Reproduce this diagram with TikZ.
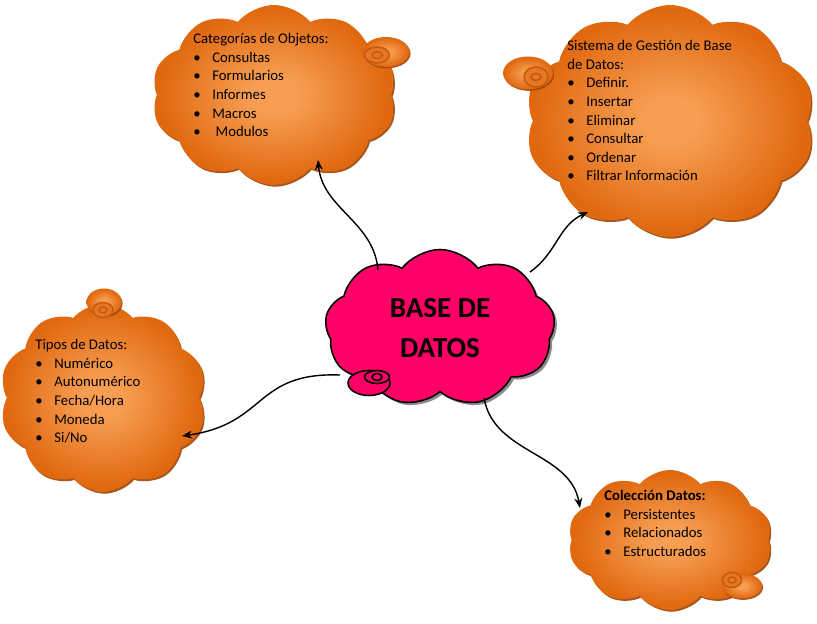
\documentclass[tikz,border=0pt]{standalone}
\usepackage{fontspec}
\setmainfont{Carlito}
\usetikzlibrary{arrows.meta,shapes.symbols,shapes.geometric,shadows}
\definecolor{naranjaOscuro}{HTML}{E0680F}
\definecolor{naranjaClaro}{HTML}{F79E52}
\definecolor{naranjaBorde}{HTML}{9C4508}
\definecolor{rosaBase}{HTML}{FF0066}
\pgfdeclareradialshading{brilloNube}{\pgfpoint{0bp}{0bp}}{%
  color(0bp)=(naranjaClaro); color(5bp)=(naranjaClaro);
  color(24bp)=(naranjaOscuro); color(50bp)=(naranjaOscuro)}
\newcommand{\vineta}[1]{\makebox[0.38cm][l]{\textbullet}#1}

\begin{document}
\begin{tikzpicture}[x=0.02cm, y=0.02cm,
    nube/.style={cloud, cloud puffs=10, cloud puff arc=100, cloud ignores aspect,
                 shading=brilloNube, inner sep=0pt,
                 drop shadow={shadow xshift=0.8pt, shadow yshift=-1pt, fill=naranjaBorde, opacity=0.9}},
    nubeBase/.style={cloud, cloud puffs=9, cloud puff arc=105, cloud ignores aspect,
                 fill=rosaBase, draw=black, line width=0.9pt, align=center,
                 font=\fontsize{16.5}{22.4}\selectfont\bfseries,
                 drop shadow={shadow xshift=1.5pt, shadow yshift=-1.5pt, fill=black!45, opacity=1}},
    burbuja/.style={ellipse, shading=brilloNube, inner sep=0pt,
                 drop shadow={shadow xshift=0.6pt, shadow yshift=-0.8pt, fill=naranjaBorde, opacity=0.9}},
    anillo/.style={ellipse, draw=naranjaOscuro!88!black, line width=0.9pt,
                 fill=naranjaOscuro!70!naranjaClaro, inner sep=0pt},
    anilloRosa/.style={ellipse, fill=rosaBase, draw=black, line width=0.9pt, inner sep=0pt},
    texto/.style={anchor=north west, align=left, inner sep=0pt, font=\fontsize{8.4}{10.6}\selectfont},
    flecha/.style={-{Stealth[length=2mm, width=1.6mm]}, line width=0.8pt}
  ]
  \useasboundingbox (0,0) rectangle (817,624);

  % nubes
  \node[nube, minimum width=4.9cm, minimum height=3.6cm] (categorias) at (274,529) {};
  \node[nube, minimum width=5.8cm, minimum height=4.64cm] (sistema) at (670,503) {};
  \node[nube, minimum width=4.14cm, minimum height=3.76cm] (tipos) at (103,226) {};
  \node[nube, minimum width=4.08cm, minimum height=2.8cm] (coleccion) at (670,84) {};
  \node[nubeBase, minimum width=4.6cm, minimum height=3.14cm] (base) at (440,296) {BASE DE\\DATOS};

  % burbujas
  \node[burbuja, minimum width=0.94cm, minimum height=0.6cm] (burbujaCat) at (386,572) {};
  \node[anillo, minimum width=0.5cm, minimum height=0.32cm] (anilloCat) at (377,569) {};
  \node[anillo, minimum width=0.2cm, minimum height=0.14cm] at (anilloCat) {};
  \node[burbuja, minimum width=1cm, minimum height=0.66cm] (burbujaSis) at (528,551) {};
  \node[anillo, minimum width=0.48cm, minimum height=0.4cm] (anilloSis) at (536,547) {};
  \node[anillo, minimum width=0.2cm, minimum height=0.14cm] at (anilloSis) {};
  \node[burbuja, minimum width=0.7cm, minimum height=0.54cm] (burbujaTip) at (104,322) {};
  \node[anillo, minimum width=0.4cm, minimum height=0.3cm] (anilloTip) at (103,314) {};
  \node[anillo, minimum width=0.16cm, minimum height=0.12cm] at (anilloTip) {};
  \node[burbuja, minimum width=0.8cm, minimum height=0.5cm] (burbujaCol) at (742,38) {};
  \node[anillo, minimum width=0.38cm, minimum height=0.3cm] (anilloCol) at (732,44) {};
  \node[anillo, minimum width=0.16cm, minimum height=0.12cm] at (anilloCol) {};
  \node[anilloRosa, minimum width=0.84cm, minimum height=0.5cm] (burbujaBase) at (369,241) {};
  \node[anilloRosa, minimum width=0.5cm, minimum height=0.26cm] (anilloBase) at (377,247) {};
  \node[anilloRosa, minimum width=0.2cm, minimum height=0.14cm] at (anilloBase) {};

  % textos
  \node[texto] (txtCategorias) at (193,591) {Categorías de Objetos:\\
    \vineta{Consultas}\\ \vineta{Formularios}\\ \vineta{Informes}\\
    \vineta{Macros}\\ \vineta{\ Modulos}};
  \node[texto] (txtSistema) at (567,584) {Sistema de Gestión de Base\\de Datos:\\
    \vineta{Definir.}\\ \vineta{Insertar}\\ \vineta{Eliminar}\\
    \vineta{Consultar}\\ \vineta{Ordenar}\\ \vineta{Filtrar Información}};
  \node[texto] (txtTipos) at (35,285) {Tipos de Datos:\\
    \vineta{Numérico}\\ \vineta{Autonumérico}\\ \vineta{Fecha/Hora}\\
    \vineta{Moneda}\\ \vineta{Si/No}};
  \node[texto] (txtColeccion) at (604,134) {\textbf{Colección Datos:}\\
    \vineta{Persistentes}\\ \vineta{Relacionados}\\ \vineta{Estructurados}};

  % flechas
  \draw[flecha] ([shift={(-62,58)}]base.center) to[out=95, in=-85]
    ([shift={(44,-65)}]categorias.center);
  \draw[flecha] ([shift={(90,56)}]base.center) to[out=35, in=205]
    ([shift={(-82,-91)}]sistema.center);
  \draw[flecha] ([shift={(-100,-47)}]base.center) to[out=178, in=8, looseness=1.3]
    ([shift={(79,-38)}]tipos.center);
  \draw[flecha] ([shift={(44,-70)}]base.center) to[out=-80, in=100]
    ([shift={(-90,32)}]coleccion.center);
\end{tikzpicture}
\end{document}
